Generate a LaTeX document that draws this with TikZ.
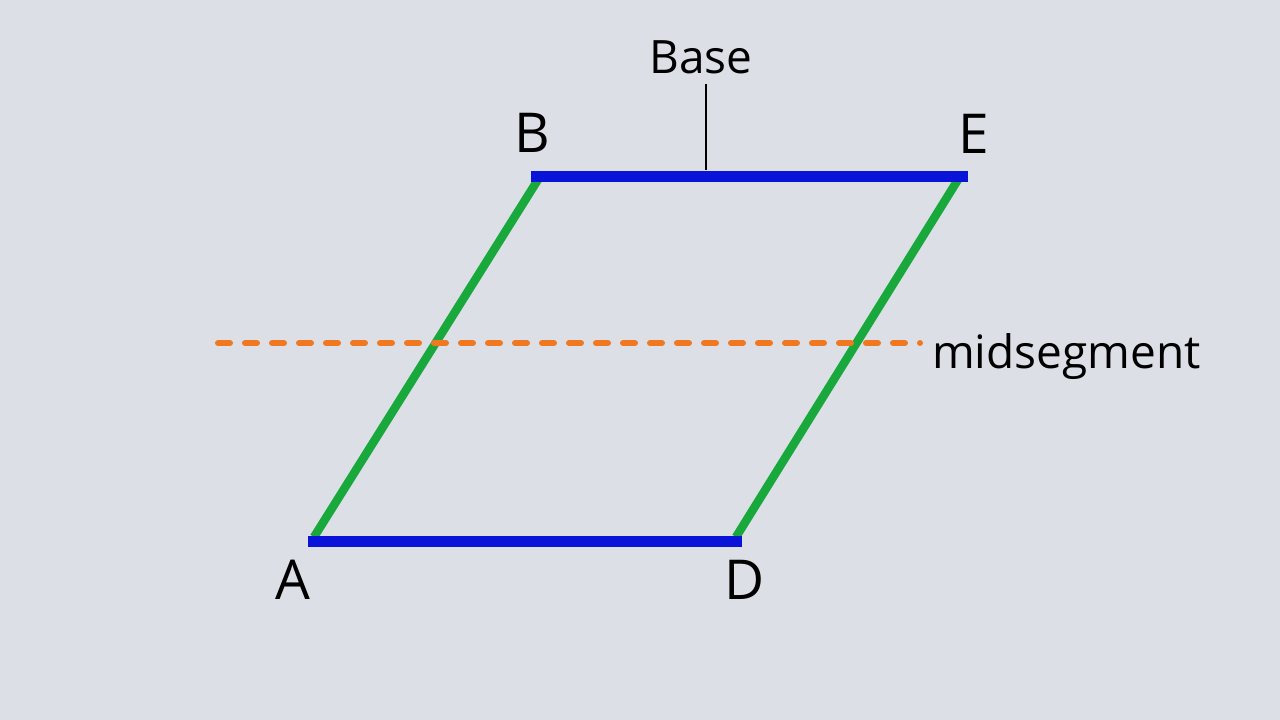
\documentclass[tikz,border=0pt]{standalone}
\usepackage{fontspec}
\setmainfont{Open Sans}
\definecolor{bg}{HTML}{DCE0E6}
\definecolor{bblue}{HTML}{0A14D8}
\definecolor{ggreen}{HTML}{18A83C}
\definecolor{oorange}{HTML}{F07820}
\begin{document}
\begin{tikzpicture}[x=1pt,y=-1pt,
  baseseg/.style={draw=bblue,line width=11pt},
  legseg/.style={draw=ggreen,line width=8.5pt},
  midseg/.style={draw=oorange,line width=6pt,line cap=round,dash pattern=on 12pt off 15pt},
  ptlabel/.style={font=\fontsize{55}{64}\selectfont,text=black,inner sep=0pt},
  txtlabel/.style={font=\fontsize{46}{54}\selectfont,text=black,inner sep=0pt}]
\fill[bg] (0,0) rectangle (1280,720);
\useasboundingbox (0,0) rectangle (1280,720);
\coordinate (A) at (312,541);
\coordinate (D) at (738,541);
\coordinate (B) at (537,176);
\coordinate (E) at (961,176);
\coordinate (Atop) at (539,178);
\coordinate (Abot) at (314,537);
\coordinate (Dbot) at (736,537);
\coordinate (Etop) at (959,178);
\coordinate (M1) at (218,343);
\coordinate (M2) at (920,343);
\coordinate (Bmid) at (706,170);
% legs
\draw[legseg] (Abot) -- (Atop);
\draw[legseg] (Dbot) -- (Etop);
% bases
\draw[baseseg,shorten <=-6pt,shorten >=-7pt] (B) -- (E);
\draw[baseseg,shorten <=-4pt,shorten >=-4pt] (A) -- (D);
% midsegment
\draw[midseg] (M1) -- (M2);
% labels
\node[ptlabel] (lB) at (532,133) {B};
\node[ptlabel] (lE) at (974,134) {E};
\node[ptlabel] (lA) at (293,580) {A};
\node[ptlabel] (lD) at (745,580) {D};
\node[txtlabel,anchor=base] (lBase) at (701,73) {Base};
\node[txtlabel,anchor=base west] (lMid) at (932,368) {midsegment};
\coordinate (BaseTop) at (706,84);
\draw[black,line width=1.6pt] (BaseTop) -- (Bmid);
\end{tikzpicture}
\end{document}
